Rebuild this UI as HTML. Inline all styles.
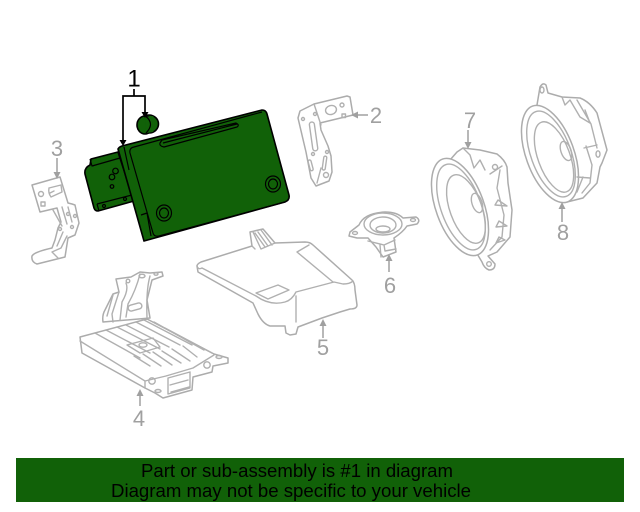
<!DOCTYPE html>
<html><head><meta charset="utf-8"><style>
html,body{margin:0;padding:0;background:#fff;width:640px;height:512px;overflow:hidden}
svg{display:block}
text{font-family:"Liberation Sans",sans-serif}
.g{fill:none;stroke:#b0b0b0;stroke-width:1.4;stroke-linejoin:round;stroke-linecap:round}
.gf{fill:#fff;stroke:#acacac;stroke-width:1.5;stroke-linejoin:round}
.k{fill:#116108;stroke:#000;stroke-width:1.6;stroke-linejoin:round}
.kl{fill:none;stroke:#000;stroke-width:1.2;stroke-linejoin:round}
.n{fill:#a0a0a0;font-size:22px}
.ar{stroke:#a0a0a0;stroke-width:1.5;fill:none}
.ah{fill:#a0a0a0}
</style></head><body>
<svg width="640" height="512" viewBox="0 0 640 512" xmlns="http://www.w3.org/2000/svg">
<rect width="640" height="512" fill="#fff"/>

<!-- Rear box -->
<path class="k" d="M91,159 L118,152 L134,201 L98,211 Q95,211 94,208 L85,174 Q84,168 90,165 Z"/>
<path class="kl" d="M90,159 L92,166 L120,158 M93,166 L95,165 M97,204 L132,195 M97,204 L99,211"/>
<circle class="kl" cx="115.500" cy="171" r="2.800"/><circle class="kl" cx="112" cy="177" r="2.800"/><circle class="kl" cx="112" cy="186.500" r="1.800"/>
<circle class="kl" cx="104" cy="206" r="1.500"/><circle class="kl" cx="125" cy="199" r="1.500"/>

<!-- Main unit -->
<path class="k" d="M118,149 Q119,147 122,146 L262,110 Q266,110 267,114 L289,195 Q290,200 285,202 L144,241 Z"/>
<path class="kl" d="M124,147 L129,170 M134,147 L262,112 M134,147 Q129,148 130,153 L153,233 Q154,237 159,236 L285,202"/>
<path class="kl" d="M141,215 L147,213 L151,236"/>
<path class="kl" d="M162,140 L236,123 Q240,125 237,127 L164,147 Q159,146 160,143 Z M163,143 L237,124"/>
<ellipse class="kl" cx="164" cy="213" rx="7.500" ry="8"/><ellipse class="kl" cx="164" cy="213" rx="4.500" ry="5"/>
<ellipse class="kl" cx="273" cy="184" rx="7.500" ry="8"/><ellipse class="kl" cx="273" cy="184" rx="4.500" ry="5"/>

<!-- Cap -->
<ellipse class="k" cx="149" cy="124" rx="9.500" ry="9"/>
<ellipse class="k" cx="145" cy="125" rx="8" ry="9"/>
<path d="M145,117 L153,116 L157,124 L153,132 L146,133 Z" fill="#116108"/>
<path class="kl" d="M146,116.500 Q155,124 146,133"/>

<!-- Callout 1 -->
<text x="134" y="86.500" font-size="24" fill="#000" text-anchor="middle">1</text>
<path d="M134,89 V96 M123,141 V96 H145 V113" fill="none" stroke="#000" stroke-width="1.700"/>
<path d="M119.500,140 H126.500 L123,146 Z M141.500,112 H148.500 L145,118 Z" fill="#000"/>

<!-- Bracket 2 -->
<path class="gf" d="M300,111 L314,104 L347,96 L350,97 L353,115 L320,123 L321,130 L328,146 L331,156 L332,172 L329,181 L316,186 L311,178 L306,152 L298,118 Z"/>
<path class="g" d="M314,104 L321,125"/>
<ellipse class="g" cx="331" cy="110" rx="5.500" ry="4.500" transform="rotate(-15 331 110)"/>
<circle class="g" cx="342" cy="105" r="2"/><rect class="g" x="342" y="114" width="3.500" height="3.500"/>
<rect class="g" x="311" y="122" width="5" height="29" rx="2.500" transform="rotate(-8 313 136)"/>
<circle class="g" cx="303" cy="119" r="1.500"/><circle class="g" cx="315" cy="114" r="1.500"/>
<circle class="g" cx="313" cy="154" r="1.500"/><circle class="g" cx="327" cy="152" r="1.500"/>
<rect class="g" x="309" y="160" width="3" height="11" rx="1.500" transform="rotate(-15 310 165)"/>
<rect class="g" x="323" y="156" width="3" height="14" rx="1.500" transform="rotate(8 324 163)"/>
<circle class="g" cx="326" cy="175" r="2.500"/>
<path class="g" d="M317,183 L321,168"/>
<path class="ar" d="M353,115 H368"/><path class="ah" d="M351,115 L358,111.500 V118.500 Z"/>
<text class="n" x="376" y="123" text-anchor="middle">2</text>

<!-- Bracket 3 -->
<path class="gf" d="M32,185 L60,177 L68,203 L72,204 L75,205 L79,223 L75,235 L68,238 L65,257 L37,264 Q31,262 32,256 Q34,252 52,248 L55,240 L58,228 L61,222 L57,208 L40,212 Z"/>
<path class="g" d="M53,210 L62,226 M62,207 L67,224 M68,207 L72,222 M67,236 L61,248 L52,252 L58,258 M63,232 L57,246"/>
<circle class="g" cx="41" cy="194" r="2.500"/><rect class="g" x="41" y="202" width="4" height="4"/>
<path class="g" d="M49,188 L61,185 L62,192 L51,197 Q48,193 49,188 M50,193 L54,191"/>
<circle class="g" cx="68" cy="214" r="1.500"/><circle class="g" cx="75" cy="216" r="1.500"/><circle class="g" cx="60" cy="229" r="1.500"/><circle class="g" cx="72" cy="227" r="1.500"/>
<path class="ar" d="M57,158 V176"/><path class="ah" d="M53.500,172 H60.500 L57,179 Z"/>
<text class="n" x="57" y="156" text-anchor="middle">3</text>

<!-- Module 4 -->
<path class="gf" d="M103,322 Q102,315 105,310 L113,294 L119,292 L116,279 L131,277 L140,272 L150,273 L162,272 L163,276 L152,280 L147,300 L150,318 Z"/>
<path class="g" d="M119,292 L112,314 L113,322 M126,283 Q129,290 122,302 L120,320 M140,274 Q136,290 128,304 L126,317 M150,276 Q146,290 147,318 M113,295 L107,316"/>
<rect class="g" x="128" y="304" width="14" height="6" rx="3" transform="rotate(-15 135 307)"/>
<circle class="g" cx="128" cy="281" r="1.800"/><ellipse class="g" cx="142" cy="276" rx="3" ry="1.800"/><ellipse class="g" cx="156" cy="274" rx="2" ry="1.200"/>
<path class="gf" d="M80,337 L147,319 L214,354 L228,358 L228,363 L213,366 L212,372 L193,377 L192,390 L163,398 L155,393 L145,388 L82,353 Z"/>
<path class="g" d="M80,341 L145,381 L166,376 M166,376 L193,368 L214,355 M145,381 L145,388"/>
<path class="g" d="M95,333 L140,358 M106,330 L150,353 M117,327 L160,349 M126,325 L169,347 M136,322 L180,345 M144,320 L192,345 M154,322 L204,350 M165,328 L212,353 M176,334 L194,344"/>
<path class="g" d="M127,345 L153,338 L160,347 L140,353 Z"/>
<ellipse class="g" cx="143" cy="345" rx="4" ry="2.200"/>
<path class="g" d="M134,356 L150,366 M143,354 L161,366 M153,352 L172,365 M162,351 L181,363 M172,349 L190,361 M183,346 L197,357"/>
<path class="g" d="M168,378 L168,394 L190,388 L190,372 Z M170,385 L188,380 M171,392 L189,387"/>
<circle class="g" cx="152" cy="381" r="3.200"/><circle class="g" cx="207" cy="365" r="3.200"/>
<ellipse class="g" cx="158" cy="391" rx="3" ry="1.500"/><ellipse class="g" cx="219" cy="357" rx="3" ry="1.500"/>
<path class="ar" d="M140,393 V406"/><path class="ah" d="M140,389 L143.500,396 H136.500 Z"/>
<text class="n" x="139" y="426" text-anchor="middle">4</text>

<!-- Cover 5 -->
<path class="gf" d="M197,266 Q197,264 201,262 L252,246 L250,232 L263,229 L275,243 L305,242 Q310,242 313,245 L352,280 Q355,283 355,290 L357,305 Q357,309 350,309 L340,312 L322,318 L298,327 L296,334 L290,335 L286,333 L285,326 L270,326 Q263,324 258,314 L253,303 L198,272 Z"/>
<path class="g" d="M197,266 Q198,270 202,268 L256,296 Q270,306 285,302 Q292,300 296,292 L334,282 L343,284 Q350,284 353,281"/>
<path class="g" d="M252,246 L255,249 M255,233 L265,247 M258,232 L268,246 M261,230 L272,245 M253,232 L261,249 L275,243"/>
<path class="g" d="M297,252 L309,245 M297,252 L333,282"/>
<path class="g" d="M256,293 L278,285 L289,290 L268,299 Z"/>
<path class="g" d="M296,296 L296,322"/>
<path class="ar" d="M323,323 V338"/><path class="ah" d="M323,319 L326.500,326 H319.500 Z"/>
<text class="n" x="323" y="355" text-anchor="middle">5</text>

<!-- Tweeter 6 -->
<path class="gf" d="M350,232 L359,225 Q364,213 385,212 Q397,212 403,218 L416,217 Q421,220 417,224 L407,226 Q403,232 394,238 L396,252 L383,257 L376,247 L368,238 L357,238 L349,236 Z"/>
<ellipse class="g" cx="383" cy="224" rx="19" ry="11"/>
<ellipse class="g" cx="383" cy="225" rx="13" ry="8"/>
<ellipse class="g" cx="383" cy="229" rx="7" ry="3"/>
<ellipse class="g" cx="355" cy="233" rx="2.500" ry="1.500"/><ellipse class="g" cx="413" cy="220" rx="2.500" ry="1.500"/>
<path class="g" d="M368,241 L384,245 L395,240 M380,245 L381,257 M384,245 L385,251 L396,249"/>
<path class="ar" d="M389,258 V272"/><path class="ah" d="M389,254 L392.500,261 H385.500 Z"/>
<text class="n" x="390" y="293" text-anchor="middle">6</text>

<!-- Speaker 7 -->
<path class="gf" d="M457,152 L463,148 L480,150 L497,154 Q505,160 507,167 L508,183 L512,210 L510,237 L497,252 L488,256 L495,264 Q495,270 489,270 Q484,268 482,262 L476,252 L460,240 L450,200 L450,160 Z"/>
<ellipse class="gf" cx="460" cy="207" rx="24" ry="51" transform="rotate(-20 460 207)"/>
<ellipse class="g" cx="461" cy="207" rx="20" ry="45" transform="rotate(-20 461 207)"/>
<ellipse class="g" cx="466" cy="209" rx="16" ry="36" transform="rotate(-20 466 209)"/>
<ellipse class="g" cx="477" cy="203" rx="5" ry="10" transform="rotate(-18 477 203)"/>
<circle class="g" cx="495" cy="167" r="2.500"/><circle class="g" cx="489" cy="264" r="2.300"/>
<path class="g" d="M463,148 L470,155 L474,168 L480,160 L485,170 M490,174 L502,166 M500,170 L497,188 L504,215 L502,237 L490,250 M495,205 L507,206 L498,200 L495,205 M496,227 L507,226 L499,221 Z M496,243 L505,240 L499,237 Z"/>
<path class="ar" d="M468,130 V146"/><path class="ah" d="M464.500,142 H471.500 L468,149 Z"/>
<text class="n" x="470" y="128" text-anchor="middle">7</text>

<!-- Speaker 8 -->
<path class="gf" d="M537,105 L540,87 Q543,82 546,85 L548,93 L562,97 L580,98 Q590,102 597,113 L607,150 L602,163 L600,167 L597,183 L583,198 L567,202 L550,180 L535,120 Z"/>
<ellipse class="gf" cx="550" cy="154" rx="24" ry="51" transform="rotate(-20 550 154)"/>
<ellipse class="g" cx="551" cy="154" rx="20" ry="45" transform="rotate(-20 551 154)"/>
<ellipse class="g" cx="554" cy="157" rx="16" ry="37" transform="rotate(-20 554 157)"/>
<ellipse class="g" cx="566" cy="151" rx="5" ry="10" transform="rotate(-20 566 151)"/>
<ellipse class="g" cx="542" cy="90" rx="2" ry="3"/><ellipse class="g" cx="598" cy="154" rx="2" ry="3.200"/>
<path class="g" d="M562,97 L565,105 L570,100 L580,117 L590,123 L585,110 M577,100 L591,124 L597,148 M584,148 L597,145 M586,146 L592,165 L590,183 L582,193 M577,177 L590,178 M583,177 L577,192"/>
<path class="ar" d="M562,207 V222"/><path class="ah" d="M562,202 L565.500,209 H558.500 Z"/>
<text class="n" x="563" y="240" text-anchor="middle">8</text>

<!-- Banner -->
<rect x="16" y="458" width="608" height="44" fill="#116108"/>
<text x="141" y="477" font-size="18" fill="#000" textLength="312" lengthAdjust="spacingAndGlyphs">Part or sub-assembly is #1 in diagram</text>
<text x="111" y="497" font-size="18" fill="#000" textLength="360" lengthAdjust="spacingAndGlyphs">Diagram may not be specific to your vehicle</text>
</svg>
</body></html>
